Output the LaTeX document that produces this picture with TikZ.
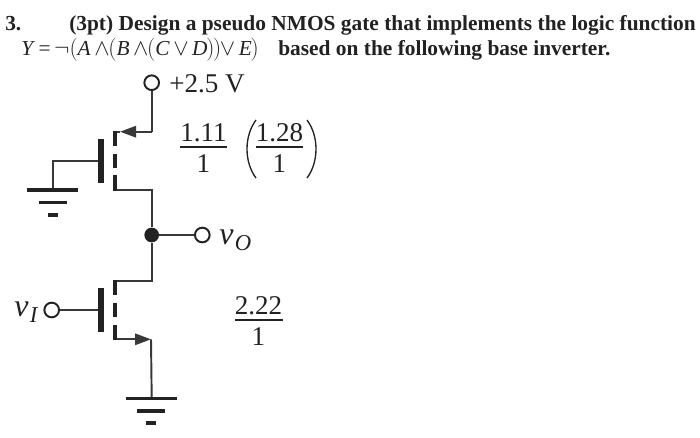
\documentclass[tikz,border=0pt]{standalone}
\usepackage{fontspec}
\usetikzlibrary{arrows.meta}
\setmainfont{Liberation Serif}
\definecolor{ink}{HTML}{222222}
\tikzset{
  wire/.style={draw=ink!90!white,line width=1.45pt},
  plate/.style={draw=ink,line width=3.8pt},
  chan/.style={draw=ink,line width=2.4pt},
  gndbar/.style={draw=ink,line width=2.6pt},
  term/.style={circle,draw=ink,fill=white,line width=1.45pt,minimum size=11pt,inner sep=0pt},
  dotn/.style={circle,fill=ink,minimum size=11pt,inner sep=0pt},
  head/.style={anchor=base west,inner sep=0pt,text=ink,font=\fontsize{16.05}{18}\selectfont\bfseries},
  lab/.style={anchor=base,inner sep=0pt,text=ink,font=\fontsize{20.3}{24}\selectfont},
  bar/.style={draw=ink,line width=1.3pt},
  paren/.style={draw=ink,line width=1pt},
  tip/.style={-{Triangle[length=12pt,width=8.5pt]}}
}
\begin{document}
\begin{tikzpicture}[x=0.75pt,y=-0.75pt]
\useasboundingbox[fill=white] (0,0) rectangle (700,437);
% header
\node[head] (num) at (5,30) {3.};
\node[head] (title) at (69,30) {(3pt) Design a pseudo NMOS gate that implements the logic function};
\node[anchor=base west,inner sep=0pt,text=ink,font=\fontsize{16}{18}\selectfont] (formula) at (21,55)
 {\textit{Y}\,=\,$\neg$$\Bigl($\textit{A}\,$\wedge$\kern-1pt$\Bigl($\textit{B}\,$\wedge$\kern-1pt$\Bigl($\textit{C}\,$\vee$\,\textit{D}\kern-1pt$\Bigr)\kern-1pt\Bigr)$\kern-1pt$\vee$\,\textit{E}\kern-1pt$\Bigr)$};
\node[head] (based) at (278,55) {based on the following base inverter.};
% coordinates
\coordinate (vel) at (151.7,131.7);
\coordinate (ptip) at (120,131.7);
\coordinate (ps) at (115,131.7);
\coordinate (pd) at (115,190);
\coordinate (pde) at (151.7,190);
\coordinate (nde) at (151.7,281);
\coordinate (nd) at (115,281);
\coordinate (ns) at (115,339.3);
\coordinate (ntip) at (151,339.3);
\coordinate (gw) at (53,190);
\coordinate (gwt) at (53,161);
\coordinate (pg) at (101,161);
\coordinate (ng) at (101,310);
\coordinate (g1) at (151.7,398.3);
% terminals
\node[term] (vdd) at (151.7,82.7) {};
\node[dotn] (out) at (151.7,235) {};
\node[term] (vo) at (202.3,235) {};
\node[term] (vi) at (51.7,310) {};
% wires
\draw[wire] (vdd) -- (vel);
\draw[wire,tip] (vel) -- (ptip);
\draw[wire] (ptip) -- (ps);
\draw[wire] (pd) -- (pde) -- (out);
\draw[wire] (out) -- (vo);
\draw[wire] (out) -- (nde) -- (nd);
\draw[wire,tip] (ns) -- (ntip);
\draw[wire] (ntip) -- (g1);
\draw[wire] (pg) -- (gwt) -- (gw);
\draw[wire] (vi) -- (ng);
% pmos
\draw[plate] (101,139) -- (101,182.7);
\draw[chan] (115,131) -- (115,146);
\draw[chan] (115,154) -- (115,168);
\draw[chan] (115,175) -- (115,190.6);
% nmos
\draw[plate] (101,288) -- (101,331.7);
\draw[chan] (115,280.4) -- (115,295);
\draw[chan] (115,303) -- (115,317);
\draw[chan] (115,325) -- (115,340);
% grounds
\draw[gndbar] (27.3,190) -- (78.3,190);
\draw[gndbar] (39,202.7) -- (66.7,202.7);
\draw[gndbar] (47.7,215) -- (57.7,215);
\draw[gndbar] (126,398.3) -- (177,398.3);
\draw[gndbar] (137,411) -- (165,411);
\draw[gndbar] (146,423) -- (156,423);
% labels
\node[lab,anchor=base west] (vddl) at (169,92) {+2.5 V};
\node[lab,anchor=base west,font=\fontsize{24}{27}\selectfont] (vol) at (219,244) {\textit{v}\kern1pt\raisebox{-0.2em}{\fontsize{17}{19}\selectfont\textit{O}}};
\node[lab,anchor=base west,font=\fontsize{24}{27}\selectfont] (vil) at (14,316) {\textit{v}\kern1pt\raisebox{-0.2em}{\fontsize{17}{19}\selectfont\textit{I}}};
% ratios
\node[lab] (a1) at (203.5,141) {1.11};
\draw[bar] (180,147) -- (227,147);
\node[lab] (a2) at (203.5,172) {1};
\node[lab] (b1) at (279.5,141) {1.28};
\draw[bar] (256,147) -- (303,147);
\node[lab] (b2) at (279.5,172) {1};
\draw[paren] (256,120) .. controls (244,136) and (244,162) .. (256,178);
\draw[paren] (307,120) .. controls (319,136) and (319,162) .. (307,178);
\node[lab] (c1) at (258.5,314) {2.22};
\draw[bar] (235,320) -- (283,320);
\node[lab] (c2) at (258.5,345) {1};
\end{tikzpicture}
\end{document}
